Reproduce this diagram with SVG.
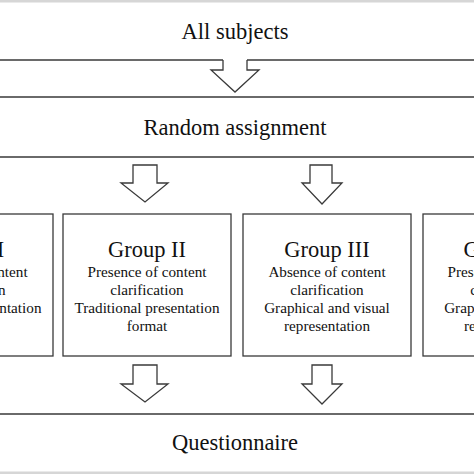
<svg xmlns="http://www.w3.org/2000/svg" width="474" height="474" viewBox="0 0 474 474">
<style>
.t{font-family:"Liberation Serif","Times New Roman",serif;fill:#111;text-anchor:middle}
.big{font-size:22.5px}
.sm{font-size:15.2px}
.ln{stroke:#3a3a3a;stroke-width:1.3;fill:none}
.box{stroke:#3a3a3a;stroke-width:1.3;fill:#fff}
.ar{stroke:#3a3a3a;stroke-width:1.3;fill:#fff;stroke-linejoin:miter}
</style>
<rect width="474" height="474" fill="#fff"/>
<rect x="0" y="0" width="474" height="2.5" fill="#d6d6d6"/>
<rect x="0" y="471.5" width="474" height="2.5" fill="#d6d6d6"/>
<g id="all-subjects"><text class="t big" x="235" y="39">All subjects</text></g>
<g id="random-assignment"><text class="t big" x="235" y="135">Random assignment</text></g>
<g id="group1">
<rect class="box" x="-115" y="214" width="168" height="142"/>
<text class="t big" x="-31" y="257">Group I</text>
<text class="t sm" x="-31" y="277">Absence of content</text>
<text class="t sm" x="-31" y="295">clarification</text>
<text class="t sm" x="-31" y="313">Traditional presentation</text>
<text class="t sm" x="-31" y="331">format</text>
</g>
<g id="group2">
<rect class="box" x="63" y="214" width="168" height="142"/>
<text class="t big" x="147" y="257">Group II</text>
<text class="t sm" x="147" y="277">Presence of content</text>
<text class="t sm" x="147" y="295">clarification</text>
<text class="t sm" x="147" y="313">Traditional presentation</text>
<text class="t sm" x="147" y="331">format</text>
</g>
<g id="group3">
<rect class="box" x="243" y="214" width="168" height="142"/>
<text class="t big" x="327" y="257">Group III</text>
<text class="t sm" x="327" y="277">Absence of content</text>
<text class="t sm" x="327" y="295">clarification</text>
<text class="t sm" x="327" y="313">Graphical and visual</text>
<text class="t sm" x="327" y="331">representation</text>
</g>
<g id="group4">
<rect class="box" x="423" y="214" width="168" height="142"/>
<text class="t big" x="507" y="257">Group IV</text>
<text class="t sm" x="507" y="277">Presence of content</text>
<text class="t sm" x="507" y="295">clarification</text>
<text class="t sm" x="507" y="313">Graphical and visual</text>
<text class="t sm" x="507" y="331">representation</text>
</g>
<g id="questionnaire"><text class="t big" x="235" y="450">Questionnaire</text></g>
<g id="connectors">
<path class="ln" d="M0 60H223M247 60H474"/>
<polyline class="ar" points="223,60 223,70 211,70 235,92 259,70 247,70 247,60"/>
<path class="ln" d="M0 97H474M0 157H474M0 414H474"/>
<polygon class="ar" points="133,165 157,165 157,183 168,183 145,202 121,183 133,183"/>
<polygon class="ar" points="310,165 332,165 332,183 342,183 322,204 302,183 310,183"/>
<polygon class="ar" points="133,365 157,365 157,384 168,384 145,402 121,384 133,384"/>
<polygon class="ar" points="312,365 332,365 332,384 342,384 322,404 302,384 312,384"/>
</g>
</svg>
